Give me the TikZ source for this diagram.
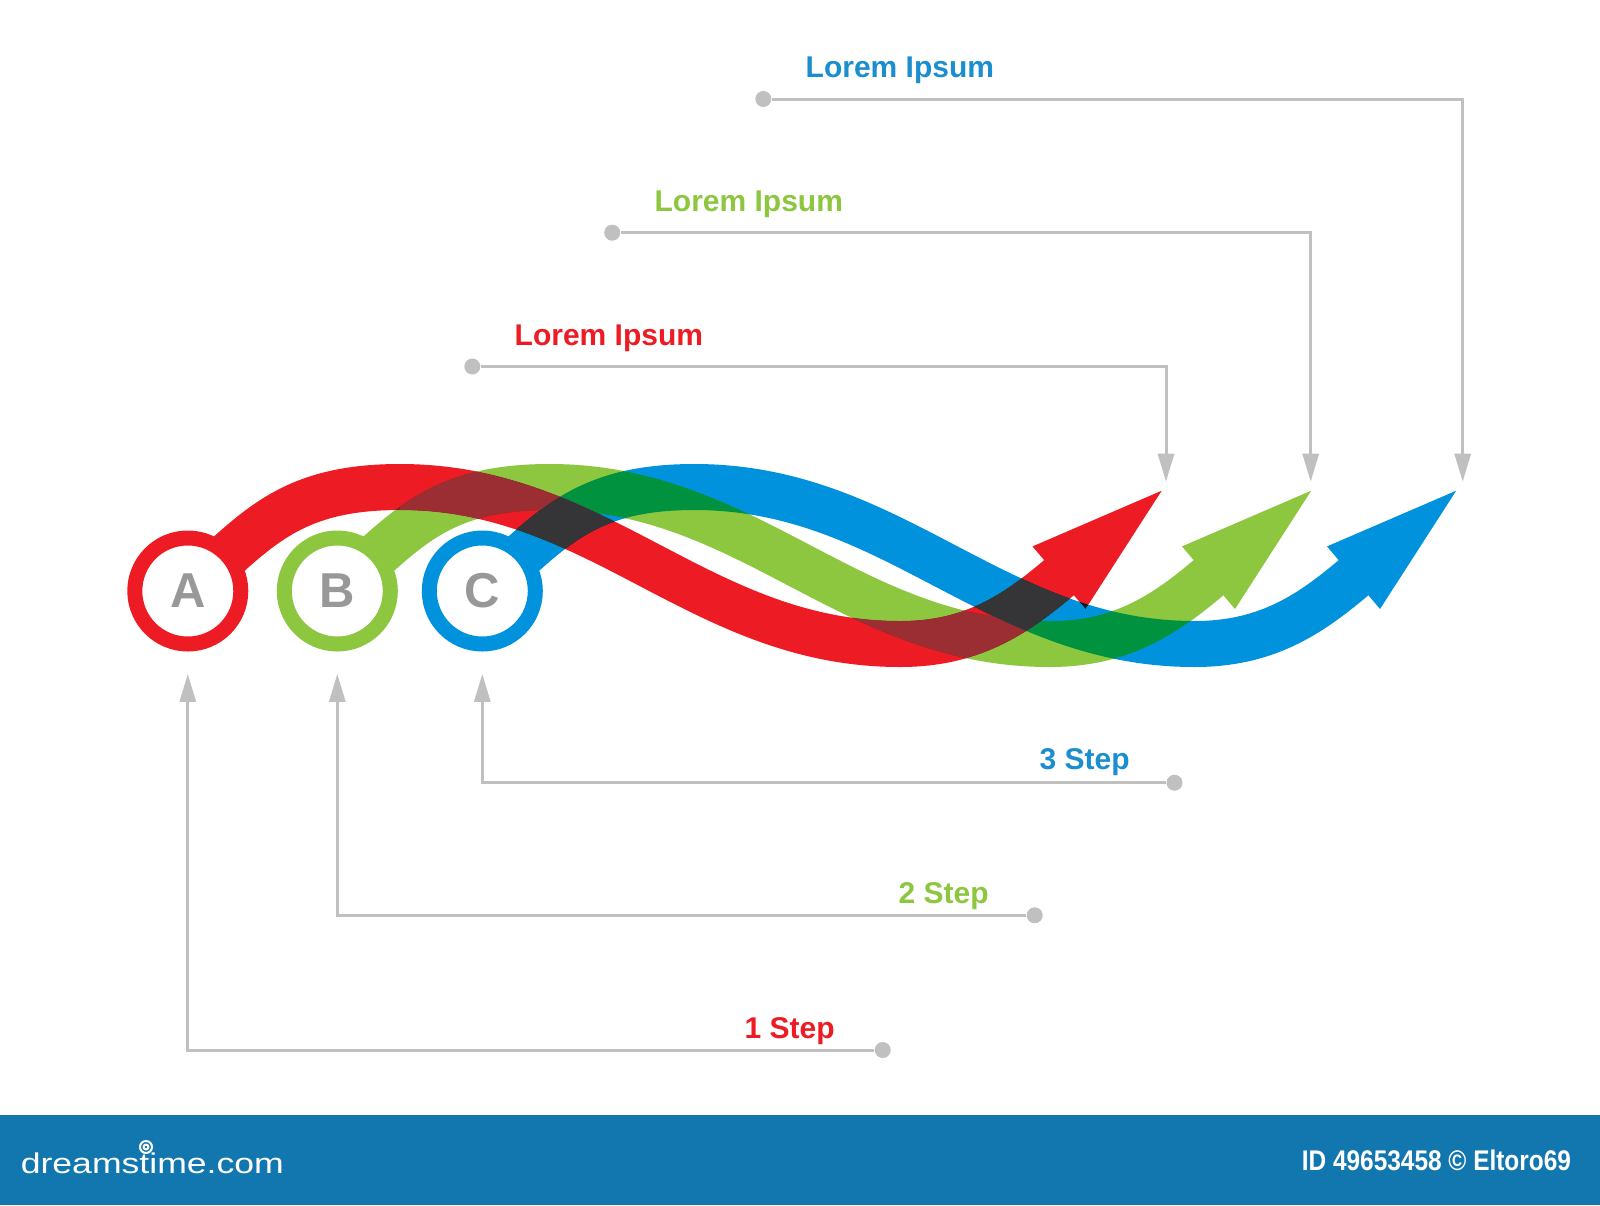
\documentclass[tikz,border=0pt]{standalone}
\usepackage{fontspec}
\setmainfont{Liberation Sans}
\usetikzlibrary{arrows.meta}
\definecolor{rRed}{RGB}{237,28,36}
\definecolor{rGreen}{RGB}{141,198,63}
\definecolor{rBlue}{RGB}{0,146,221}
\definecolor{rgOver}{RGB}{155,46,51}
\definecolor{rbOver}{RGB}{53,53,56}
\definecolor{lblBlue}{RGB}{27,142,208}
\definecolor{conGray}{RGB}{192,192,192}
\definecolor{letGray}{RGB}{152,152,152}
\definecolor{barBlue}{RGB}{17,119,174}
\newcommand\myribbon[2]{%
  \begin{scope}[shift={(#2,0)}, transparency group]
    \draw[#1, ringline] (187.8,591) circle[radius=26.5pt];
    \draw[#1, ribbonband] (227.2,555.5) .. controls (271.8,515.4) and (310,487) .. (400,487)
      .. controls (600,487) and (700,644) .. (900,644)
      .. controls (970,644) and (1013.2,616.5) .. (1059,577.7) -- (1062,575.1);
    \fill[#1] (1032.5,546.4) -- (1161.7,490.7) -- (1085.5,609.0) -- cycle;
  \end{scope}}
\newcommand\myband[2]{%
  \begin{scope}[shift={(#2,0)}]
    \draw[#1, ribbonband] (227.2,555.5) .. controls (271.8,515.4) and (310,487) .. (400,487)
      .. controls (600,487) and (700,644) .. (900,644)
      .. controls (970,644) and (1013.2,616.5) .. (1059,577.7) -- (1062,575.1);
  \end{scope}}
\begin{document}
\begin{tikzpicture}[x=0.5pt,y=-0.5pt,
  ribbonband/.style={line width=23pt},
  ringline/.style={line width=7.5pt},
  conn/.style={draw=conGray, line width=1.5pt, -{Triangle[length=14pt,width=8pt]}},
  dotnode/.style={circle, fill=conGray, inner sep=0pt, minimum size=8pt},
  lbl/.style={font=\fontsize{15}{15}\selectfont\bfseries, inner sep=0pt},
  letter/.style={circle, inner sep=0pt, minimum size=60.5pt, text=letGray,
    font=\fontsize{24.5}{24.5}\selectfont\bfseries},
  edgept/.style={sloped, rectangle, inner sep=0pt, outer sep=0pt, minimum height=23pt, minimum width=0pt},
]
\useasboundingbox (0,0) rectangle (1600,1205);
\fill[white] (0,0) rectangle (1600,1205);

% ribbons, darkened where they cross
\begin{scope}[blend mode=darken]
  \myribbon{rRed}{0}
  \myribbon{rGreen}{149.5}
  \myribbon{rBlue}{294.5}
\end{scope}

% edge points of the red band (for its crossings)
\path (400,487) .. controls (600,487) and (700,644) .. (900,644)
  foreach \i [evaluate=\i as \pp using \i/40] in {0,...,40} {node[edgept, pos=\pp] (ra\i) {}};
\path (900,644) .. controls (970,644) and (1013.2,616.5) .. (1059,577.7)
  foreach \i [evaluate=\i as \pp using \i/40] in {0,...,40} {node[edgept, pos=\pp] (rb\i) {}};
\begin{scope}
  \clip (ra0.north) foreach \i in {1,...,40} {-- (ra\i.north)}
        foreach \i in {0,...,40} {-- (rb\i.north)}
        foreach \i in {40,...,0} {-- (rb\i.south)}
        foreach \i in {40,...,0} {-- (ra\i.south)} -- cycle;
  \myband{rgOver}{149.5}
  \myband{rbOver}{294.5}
\end{scope}

% circle letters
\node[letter] (cA) at (187.8,591) {A};
\node[letter] (cB) at (337.3,591) {B};
\node[letter] (cC) at (482.3,591) {C};

% top labels and connectors
\node[dotnode] (t1) at (472.3,366.5) {};
\node[dotnode] (t2) at (612.2,232.7) {};
\node[dotnode] (t3) at (763.3,99) {};
\coordinate (r1) at (1166,481.7);
\coordinate (r2) at (1310.7,481.7);
\coordinate (r3) at (1462.7,481.7);
\draw[conn] (t1) -| (r1);
\draw[conn] (t2) -| (r2);
\draw[conn] (t3) -| (r3);
\node[lbl, text=rRed, anchor=base west] (l1) at (514.3,345) {Lorem Ipsum};
\node[lbl, text=rGreen, anchor=base west] (l2) at (654.2,211.2) {Lorem Ipsum};
\node[lbl, text=lblBlue, anchor=base west] (l3) at (805.3,77.5) {Lorem Ipsum};

% bottom labels and connectors
\node[dotnode] (s1) at (882.7,1050) {};
\node[dotnode] (s2) at (1034.7,915.3) {};
\node[dotnode] (s3) at (1174.5,782.7) {};
\draw[conn, shorten >=11pt] (s1) -| (cA.south);
\draw[conn, shorten >=11pt] (s2) -| (cB.south);
\draw[conn, shorten >=11pt] (s3) -| (cC.south);
\node[lbl, text=rRed, anchor=base east] (b1) at (835,1038) {1 Step};
\node[lbl, text=rGreen, anchor=base east] (b2) at (989,903.5) {2 Step};
\node[lbl, text=lblBlue, anchor=base east] (b3) at (1130,769) {3 Step};

% bottom bar
\fill[barBlue] (0,1115) rectangle (1600,1205);
\node[anchor=base west, inner sep=0pt, text=white, font=\fontsize{17.8}{17.8}\selectfont] (logo) at (20.4,1173.5) {\scalebox{1}[0.8]{dreamstime.com}};
\draw[white, line width=1pt] (146,1147) circle[radius=3pt] (146,1147) circle[radius=1.2pt];
\node[anchor=base east, inner sep=0pt, text=white, font=\fontsize{14.2}{14.2}\selectfont\bfseries] (idtxt) at (1571.4,1170) {\scalebox{0.86}[1]{ID 49653458 © Eltoro69}};
\end{tikzpicture}
\end{document}
